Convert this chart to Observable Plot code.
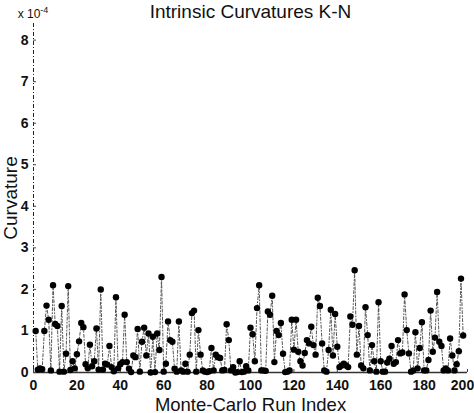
<!DOCTYPE html>
<html>
<head>
<meta charset="utf-8">
<script src="https://cdn.jsdelivr.net/npm/d3@7"></script>
<script src="https://cdn.jsdelivr.net/npm/@observablehq/plot@0.6"></script>
<style>
  html, body { margin: 0; padding: 0; background: #fff; }
  #chart { width: 474px; height: 413px; overflow: hidden; }
</style>
</head>
<body>
<div id="chart"></div>
<script>
// Curvature values, in units of 1e-4, for Monte-Carlo runs 1..198
const curvature = [
  1.0, 0.07, 0.1, 0.08, 1.0, 1.61, 1.27, 0.05, 2.1, 1.17,
  1.12, 0.02, 1.6, 0.02, 0.45, 2.08, 0.06, 0.27, 0.1, 0.44,
  0.75, 1.19, 1.09, 0.2, 0.1, 0.67, 0.15, 0.27, 1.06, 0.07,
  2.0, 0.07, 0.21, 0.19, 0.64, 0.13, 0.03, 1.81, 0.1, 0.2,
  0.25, 1.39, 0.25, 0.09, 0.01, 0.41, 0.37, 1.05, 0.02, 0.74,
  1.08, 0.41, 0.94, 0.0, 0.86, 0.01, 0.94, 0.54, 2.3, 0.02,
  0.21, 1.23, 0.78, 0.74, 0.09, 0.02, 1.23, 0.05, 0.02, 0.21,
  0.02, 0.43, 1.43, 1.49, 0.02, 1.02, 0.43, 0.05, 0.02, 0.01,
  0.03, 0.59, 0.05, 0.43, 0.37, 0.35, 0.05, 0.06, 1.16, 0.78,
  0.05, 0.13, 0.0, 0.01, 0.27, 0.01, 0.02, 0.15, 0.05, 1.08,
  0.92, 0.27, 1.55, 2.1, 0.05, 0.05, 0.04, 1.47, 1.39, 1.85,
  0.25, 1.0, 0.9, 1.19, 0.45, 0.01, 0.02, 0.05, 1.27, 0.55,
  1.27, 0.5, 0.27, 0.17, 0.47, 0.78, 0.7, 1.1, 0.66, 0.43,
  1.8, 1.6, 0.7, 0.05, 0.02, 0.54, 1.51, 0.41, 1.41, 0.62,
  0.13, 0.17, 0.21, 0.17, 0.13, 1.35, 1.15, 2.46, 0.43, 1.12,
  0.17, 0.1, 1.57, 0.9, 0.05, 0.66, 0.27, 0.02, 1.69, 0.27,
  0.02, 0.02, 0.24, 0.33, 0.64, 0.21, 0.25, 0.78, 0.46, 0.48,
  1.88, 1.02, 0.46, 0.02, 0.05, 0.97, 0.1, 0.59, 1.21, 0.05,
  0.05, 0.3, 1.49, 0.5, 0.84, 1.94, 0.74, 0.64, 0.05, 0.1,
  0.05, 0.82, 0.41, 0.05, 0.2, 0.51, 2.26, 0.89
];
const runIndex = d3.range(1, curvature.length + 1);
const xTicks = [0, 20, 40, 60, 80, 100, 120, 140, 160, 180, 200];
const yTicks = [0, 1, 2, 3, 4, 5, 6, 7, 8];
const titleText = "Intrinsic Curvatures K-N";
const xLabel = "Monte-Carlo Run Index";
const yLabel = "Curvature";

const data = runIndex.map((r, i) => ({run: r, k: curvature[i]}));

const W = 474, H = 413;
const mL = 33, mR = 7, mT = 23, mB = 41;
const font = "'Liberation Sans', Arial, Helvetica, sans-serif";
const lastTick = xTicks[xTicks.length - 1];

const tickStyle = {tickSize: 0, fontSize: 14, fontWeight: "bold", fill: "#111", label: null};

const chart = Plot.plot({
  width: W,
  height: H,
  marginLeft: mL,
  marginRight: mR,
  marginTop: mT,
  marginBottom: mB,
  style: {fontFamily: font, background: "#fff", color: "#000", overflow: "visible"},
  x: {domain: [0, 200]},
  y: {domain: [0, 8.4]},
  marks: [
    // axis lines
    Plot.ruleX([0], {stroke: "#222", strokeWidth: 1, strokeDasharray: "4,2,1,2"}),
    Plot.ruleY([0], {stroke: "#333", strokeWidth: 1.6}),
    // inward ticks
    Plot.tickY(yTicks, {y: d => d, stroke: "#444", insetRight: W - mL - mR - 3}),
    Plot.tickX(xTicks, {x: d => d, stroke: "#444", insetTop: H - mT - mB - 3}),
    // tick labels
    Plot.axisX({...tickStyle, ticks: xTicks.filter(t => t !== lastTick), tickPadding: 8}),
    Plot.axisX({...tickStyle, ticks: [lastTick], tickPadding: 8, dx: -5}),
    Plot.axisY({...tickStyle, ticks: yTicks, tickPadding: 5}),
    // data
    Plot.line(data, {x: "run", y: "k", stroke: "#444", strokeWidth: 0.9, strokeDasharray: "3,2,1,2"}),
    Plot.dot(data, {x: "run", y: "k", r: 3.2, fill: "#000", stroke: "none"}),
    // texts
    Plot.text([titleText], {frameAnchor: "top", lineAnchor: "bottom", dy: -6, fontSize: 19, fill: "#111"}),
    Plot.text([xLabel], {frameAnchor: "bottom", lineAnchor: "bottom", dy: 38, fontSize: 18.5, fill: "#111"}),
    Plot.text([yLabel], {frameAnchor: "left", textAnchor: "middle", rotate: -90, dx: -23, fontSize: 19, fill: "#111"})
  ]
});

// scale-factor label at the top of the y axis
const svg = d3.select(chart);
const sf = svg.append("text")
  .attr("x", mL)
  .attr("y", 18)
  .attr("font-family", font)
  .attr("font-size", 12)
  .attr("fill", "#111");
sf.append("tspan").text("x 10");
sf.append("tspan").attr("dy", -5).attr("font-size", 9).text("-4");

document.getElementById("chart").appendChild(chart);
</script>
</body>
</html>
